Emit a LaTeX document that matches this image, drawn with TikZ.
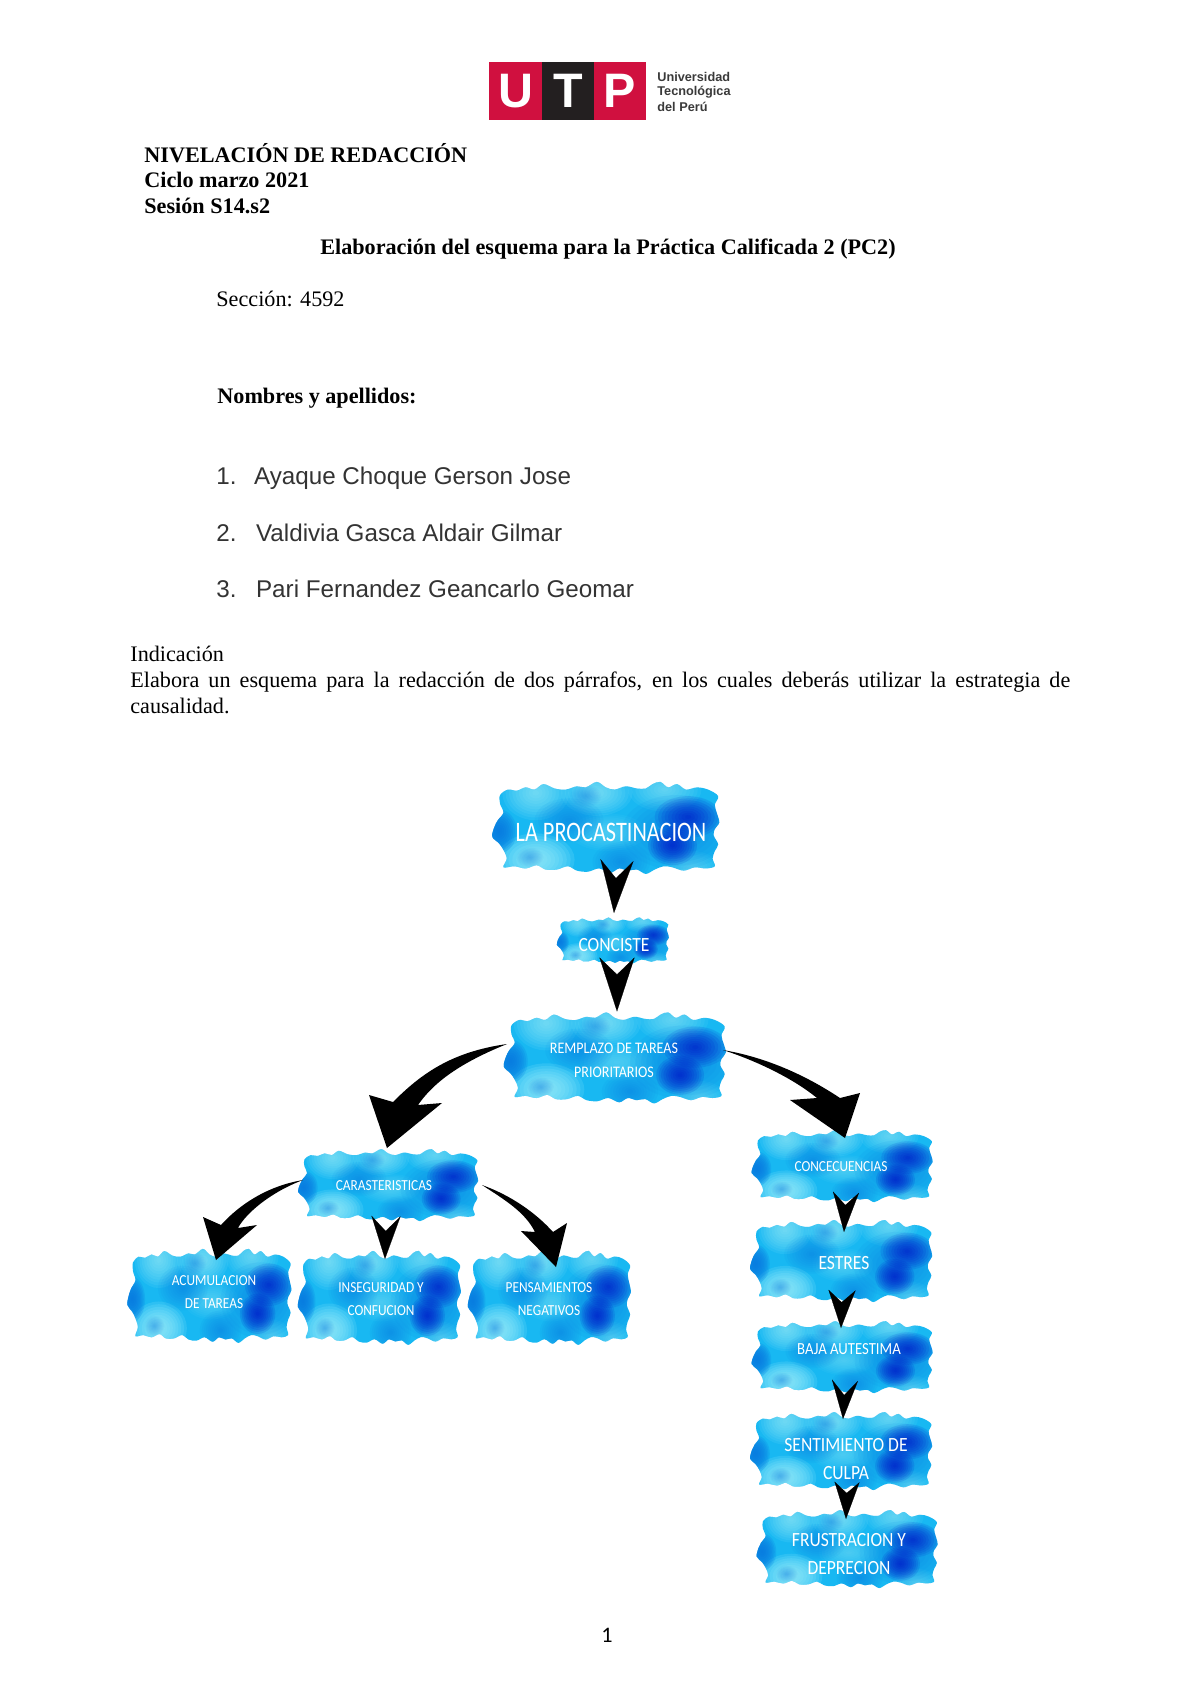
\documentclass[tikz,border=0pt]{standalone}
\usepackage{fontspec}
\setmainfont{Liberation Serif}
\setsansfont{Liberation Sans}
\newfontfamily\blobfont[FakeStretch=0.87]{Carlito}
\newfontfamily\blobfontn[FakeStretch=0.79]{Carlito}
\newfontfamily\pagefont{Carlito}
\usetikzlibrary{arrows.meta,calc}
\definecolor{utpred}{HTML}{D0103F}
\definecolor{utpdark}{HTML}{231F20}
\definecolor{utpgrey}{HTML}{3A3A3A}
\definecolor{wcyan}{HTML}{18B8F2}
\definecolor{wlight}{HTML}{9CEEFC}
\definecolor{wblue}{HTML}{0010C8}
\definecolor{wmid}{HTML}{0878E0}
\tikzset{
 x=0.496pt,y=-0.496pt,
 head/.style={font=\bfseries\fontsize{11}{13}\selectfont,anchor=base west,inner sep=0pt},
 body/.style={font=\fontsize{11}{13}\selectfont,anchor=base west,inner sep=0pt},
 names/.style={font=\sffamily\fontsize{12}{14}\selectfont,anchor=base west,inner sep=0pt,text=black!80},
 blobtxt/.style={text=white,align=center,inner sep=0pt,anchor=center},
 blobnode/.style={inner sep=0pt,outer sep=0pt},
 arr/.style={line width=0.1pt,black},
 swoosh/.style={fill=black},
 lettertxt/.style={text=white,font=\sffamily\bfseries\fontsize{24}{24}\selectfont,inner sep=0pt},
 logotxt/.style={font=\sffamily\bfseries\fontsize{6.3}{7}\selectfont,text=utpgrey,anchor=west,inner sep=0pt}
}
% a soft spot of colour: stacked translucent ellipses; colour, cx, cy, rx, ry, opacity of a layer
\newcommand{\softspot}[6]{%
 \foreach \k in {1,...,10} {
  \fill[#1,opacity=#6] (#2,#3) ellipse ({#4*\k/10} and {#5*\k/10});
 }%
}
% the watercolour patch: centred on the origin, about 204 wide and 84 high
\newcommand{\blobshape}{plot[smooth cycle,tension=.55] coordinates {(-97,-31) (-90,-36) (-82,-35) (-74,-38) (-66,-36) (-58,-41) (-48,-37) (-38,-36) (-28,-39) (-20,-38) (-10,-43) (-2,-38) (6,-36) (16,-39) (26,-37) (34,-37) (40,-41) (47,-43) (54,-38) (62,-41) (70,-36) (80,-38) (90,-36) (99,-30) (96,-22) (98,-14) (100,-6) (96,0) (95,6) (99,14) (96,20) (94,27) (96,34) (88,36) (78,35) (68,38) (58,35) (50,34) (42,37) (34,41) (26,37) (18,38) (10,36) (2,40) (-8,36) (-18,39) (-28,38) (-36,34) (-46,37) (-56,37) (-64,33) (-74,36) (-84,34) (-94,35) (-91,27) (-94,19) (-98,13) (-104,7) (-102,-2) (-99,-8) (-94,-15) (-97,-23)}}
\newcommand{\wcblob}[5]{% name, cx, cy, w, h
 \begin{scope}[shift={(#2,#3)},xscale=#4/204,yscale=#5/84]
  \begin{scope}
   \clip \blobshape;
   \fill[wcyan] (-110,-50) rectangle (110,50);
   \softspot{wlight}{-65}{-33}{30}{25}{.1}
   \softspot{wlight}{-65}{28}{35}{24}{.16}
   \softspot{wlight}{-10}{-33}{32}{21}{.1}
   \softspot{wlight}{51}{-36}{33}{20}{.08}
   \softspot{wlight}{0}{3}{34}{17}{.05}
   \softspot{wlight}{75}{36}{25}{16}{.06}
   \softspot{wmid}{-35}{-8}{31}{20}{.07}
   \softspot{wmid}{-98}{2}{16}{20}{.2}
   \softspot{wmid}{12}{30}{26}{18}{.07}
   \softspot{wmid}{-20}{-30}{14}{10}{.05}
   \softspot{wmid}{-70}{26}{12}{9}{.05}
   \softspot{wmid}{62}{3}{50}{34}{.08}
   \softspot{wblue}{72}{-11}{30}{19}{.11}
   \softspot{wblue}{58}{15}{22}{18}{.12}
  \end{scope}
 \end{scope}
 \node[blobnode,minimum width=#4*0.496pt,minimum height=#5*0.496pt] (#1) at (#2,#3) {};
}
\newcommand{\blobtext}[5]{% name, cx, cy, font size, text
 \node[blobtxt,font=\blobfont\fontsize{#4}{#4}\selectfont] (#1) at (#2,#3) {#5};
}
\begin{document}
\begin{tikzpicture}
\useasboundingbox (0,0) rectangle (1200,1698);
\fill[white] (0,0) rectangle (1200,1698);
% logo
\fill[utpred] (489,62) rectangle (542,120);
\fill[utpdark] (542,62) rectangle (594,120);
\fill[utpred] (594,62) rectangle (646,120);
\node[lettertxt] (lu) at (516,91) {U};
\node[lettertxt] (lt) at (568,91) {T};
\node[lettertxt] (lp) at (620,91) {P};
\node[logotxt] (ln1) at (657,77) {Universidad};
\node[logotxt] (ln2) at (657,92) {Tecnológica};
\node[logotxt] (ln3) at (657,107) {del Perú};
% heading
\node[head] (h1) at (144,162) {NIVELACIÓN DE REDACCIÓN};
\node[head] (h2) at (144,187) {Ciclo marzo 2021};
\node[head] (h3) at (144,213) {Sesión S14.s2};
\node[head,anchor=base] (h4) at (608,254) {Elaboración del esquema para la Práctica Calificada 2 (PC2)};
\node[body] (s) at (216,306) {Sección: 4592};
\node[head] (n) at (217,403) {Nombres y apellidos:};
\node[names] (n1) at (216,484) {\makebox[18.7pt][l]{1.}Ayaque Choque Gerson Jose};
\node[names] (n2) at (216,541) {\makebox[19.7pt][l]{2.}Valdivia Gasca Aldair Gilmar};
\node[names] (n3) at (216,597) {\makebox[19.7pt][l]{3.}Pari Fernandez Geancarlo Geomar};
\node[body] (i1) at (130,661) {Indicación};
\node[body] (i2) at (130,687) {\hbox to 466.2pt{Elabora un esquema para la redacción de dos párrafos, en los cuales deberás utilizar la estrategia de}};
\node[body] (i3) at (130,713) {causalidad.};
% patches
\wcblob{lap}{608}{829}{227}{92}
\wcblob{con}{614}{941}{112}{46}
\wcblob{rem}{617}{1059}{222}{91}
\wcblob{car}{390}{1186}{180}{72}
\wcblob{acu}{211}{1297}{164}{94}
\wcblob{ins}{381}{1299}{163}{94}
\wcblob{pen}{551}{1299}{163}{94}
\wcblob{cnc}{844}{1167}{181}{72}
\wcblob{est}{843}{1262}{182}{82}
\wcblob{baj}{844}{1358}{181}{72}
\wcblob{sen}{843}{1452}{182}{78}
\wcblob{fru}{849}{1550}{181}{78}
% texts of the patches
\blobtext{lapt}{611}{832}{14}{{\blobfontn LA PROCASTINACION}}
\blobtext{cont}{614}{945}{10}{CONCISTE}
\blobtext{remt}{614}{1060}{8}{REMPLAZO DE TAREAS\\[4pt]PRIORITARIOS}
\blobtext{cart}{384}{1186}{7.6}{CARASTERISTICAS}
\blobtext{acut}{214}{1292}{7.6}{ACUMULACION\\[3.4pt]DE TAREAS}
\blobtext{inst}{381}{1299}{7.6}{INSEGURIDAD Y\\[3.4pt]CONFUCION}
\blobtext{pent}{549}{1299}{7.6}{PENSAMIENTOS\\[3.4pt]NEGATIVOS}
\blobtext{cnct}{841}{1167}{7.6}{CONCECUENCIAS}
\blobtext{estt}{844}{1263}{10}{ESTRES}
\blobtext{bajt}{849}{1349}{8.4}{BAJA AUTESTIMA}
\blobtext{sent}{846}{1459}{10}{SENTIMIENTO DE\\[3.5pt]CULPA}
\blobtext{frut}{849}{1554}{10}{FRUSTRACION Y\\[3.5pt]DEPRECION}
% straight arrows
\draw[arr,shorten <=9pt,-{Stealth[length=26.3pt,width=16.4pt,inset=9pt]}] (617,860) -- ($(con.north)+(0,-5)$);
\draw[arr,shorten <=8.4pt,-{Stealth[length=26.8pt,width=17.4pt,inset=8.4pt]}] ($(con.south)+(3,-6)$) -- ($(rem.north)+(0,-2)$);
\draw[arr,shorten <=7.4pt,-{Stealth[length=21.3pt,width=14.4pt,inset=7.4pt]}] ($(car.south)+(-4,-6)$) -- ($(ins.north)+(4,7)$);
\draw[arr,shorten <=6.4pt,-{Stealth[length=19.8pt,width=12.9pt,inset=6.4pt]}] ($(cnc.south)+(2,-11)$) -- ($(est.north)+(1,11)$);
\draw[arr,shorten <=6pt,-{Stealth[length=18.8pt,width=13.4pt,inset=6pt]}] ($(est.south)+(-1,-13)$) -- ($(baj.north)+(-3,6)$);
\draw[arr,shorten <=7.4pt,-{Stealth[length=19.3pt,width=12.9pt,inset=7.4pt]}] ($(baj.south)+(1,-14)$) -- ($(sen.north)+(0,6)$);
\draw[arr,shorten <=5.5pt,-{Stealth[length=18.4pt,width=12.4pt,inset=5.5pt]}] ($(sen.south)+(4,-9)$) -- ($(fru.north)+(-3,8)$);
% curved arrows
\coordinate (bt1) at ($(rem.west)+(1,-15)$);
\coordinate (ba1) at ($(car.north)+(-3,-2)$);
\fill[swoosh] (bt1) .. controls (450,1052) and (420,1075) .. (393,1102) -- (369,1095) -- (ba1) -- (442,1103) -- (418,1105) .. controls (432,1085) and (455,1065) .. (bt1) -- cycle;
\coordinate (bt2) at ($(rem.east)+(-5,-9)$);
\coordinate (ba2) at ($(cnc.north)+(1,7)$);
\fill[swoosh] (bt2) .. controls (770,1058) and (810,1078) .. (840,1098) -- (860,1093) -- (ba2) -- (790,1100) -- (817,1098) .. controls (795,1080) and (760,1062) .. (bt2) -- cycle;
\coordinate (bt3) at ($(car.west)+(3,-6)$);
\coordinate (ba3) at ($(acu.north)+(5,10)$);
\fill[swoosh] (bt3) .. controls (267,1186) and (239,1205) .. (221,1225) -- (203,1217) -- (ba3) -- (257,1225) -- (238,1228) .. controls (246,1213) and (271,1192) .. (bt3) -- cycle;
\coordinate (bt4) at ($(car.east)+(2,-1)$);
\coordinate (ba4) at ($(pen.north)+(5,15)$);
\fill[swoosh] (bt4) .. controls (510,1195) and (535,1212) .. (553,1232) -- (567,1223) -- (ba4) -- (521,1231) -- (535,1232) .. controls (525,1212) and (505,1200) .. (bt4) -- cycle;
% page number
\node[font=\pagefont\fontsize{11}{13}\selectfont,anchor=base,inner sep=0pt] (pg) at (607,1642) {1};
\end{tikzpicture}
\end{document}
